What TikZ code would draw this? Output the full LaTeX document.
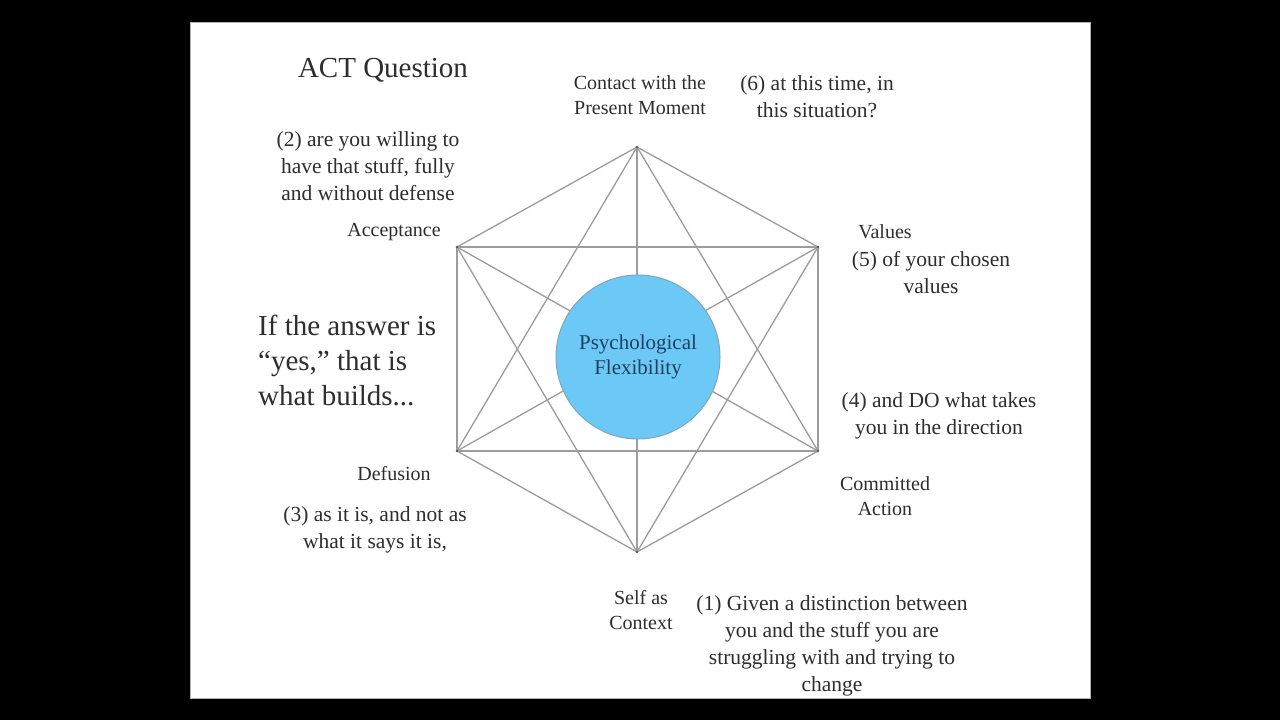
\documentclass[tikz,border=0pt]{standalone}
\usepackage{fontspec}
\setmainfont{Liberation Serif}
\usetikzlibrary{positioning}
\definecolor{inktext}{HTML}{2E2E2E}
\definecolor{edgegray}{HTML}{9C9C9C}
\definecolor{corefill}{HTML}{6CC9F6}
\definecolor{coreborder}{HTML}{7FA6BE}
\definecolor{coretext}{HTML}{1C3F63}
\tikzset{
  my label/.style={
    align=center,
    inner sep=0pt,
    text=inktext,
    font=\fontsize{20}{25}\selectfont
  },
  my note/.style={
    my label,
    font=\fontsize{21.5}{27}\selectfont
  },
  my big/.style={
    my label,
    font=\fontsize{29}{35}\selectfont
  },
  my edge/.style={
    draw=edgegray,
    line width=1.3pt
  },
  my core/.style={
    circle,
    fill=corefill,
    draw=coreborder,
    line width=1pt,
    minimum size=164pt,
    align=center,
    text=coretext,
    font=\fontsize{21}{25}\selectfont
  }
}

\begin{document}
\begin{tikzpicture}[x=1pt,y=-1pt]
\fill[black] (0,0) rectangle (1280,720);
\useasboundingbox (0,0) rectangle (1280,720);
\filldraw[fill=white,draw=gray!60,line width=1pt] (190,22) rectangle (1090,698);
% hexagon corners
\coordinate (top) at (637,147);
\coordinate (ur) at (818,247);
\coordinate (lr) at (818,451);
\coordinate (bot) at (637,552);
\coordinate (ll) at (457,451);
\coordinate (ul) at (457,247);
\foreach \a/\b in {top/ur,ur/lr,lr/bot,bot/ll,ll/ul,ul/top,
                   top/lr,lr/ll,ll/top,bot/ul,ul/ur,ur/bot,
                   top/bot,ul/lr,ur/ll}
  \draw[my edge] (\a) -- (\b);
\foreach \c in {top,ur,lr,bot,ll,ul}
  \fill[inktext!80] (\c) circle (1.4pt);
\node[my core] (core) at (638,357) {Psychological\\Flexibility};
% process labels
\node[my label] (contact) at (640,95) {Contact with the\\Present Moment};
\node[my label] (accept) at (394,232) {Acceptance};
\node[my label] (values) at (885,232) {Values};
\node[my label] (defusion) at (394,474) {Defusion};
\node[my label] (commit) at (885,496) {Committed\\Action};
\node[my label] (self) at (641,610) {Self as\\Context};
% question parts
\node[my big] (title) at (383,70) {ACT Question};
\node[my note] (q2) at (368,166) {(2) are you willing to\\have that stuff, fully\\and without defense};
\node[my note] (q6) at (817,97) {(6) at this time, in\\this situation?};
\node[my note] (q5) at (931,273) {(5) of your chosen\\values};
\node[my note] (q4) at (939,416) {(4) and DO what takes\\you in the direction};
\node[my note] (q3) at (375,530) {(3) as it is, and not as\\what it says it is,};
\node[my note] (q1) at (832,646) {(1) Given a distinction between\\you and the stuff you are\\struggling with and trying to\\change};
\node[my big,align=left,anchor=west] (answer) at (258,360) {If the answer is\\``yes,'' that is\\what builds...};
\end{tikzpicture}
\end{document}
